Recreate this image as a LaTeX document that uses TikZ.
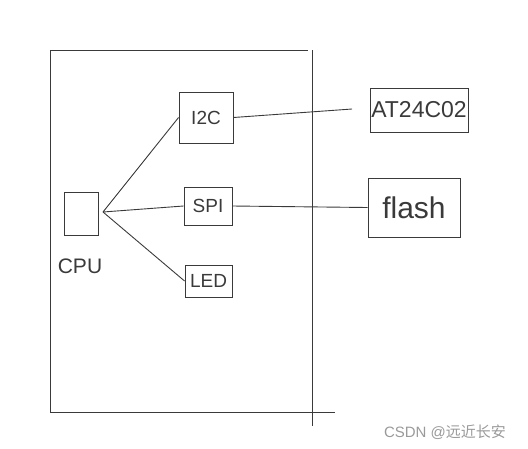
\documentclass[tikz,border=0pt]{standalone}
\usepackage{fontspec}
\setmainfont{Liberation Sans}
\newfontfamily\cjkfont{Noto Sans CJK SC}
\usetikzlibrary{calc}
\definecolor{ink}{HTML}{3A3A3A}
\definecolor{mark}{HTML}{9A9A9A}
\tikzset{
  line/.style={draw=ink, line width=0.9pt},
  box/.style={draw=ink, line width=0.9pt, inner sep=0pt, text=ink},
  lbl/.style={text=ink, font=\fontsize{19}{19}\selectfont},
  biglbl/.style={text=ink, font=\fontsize{23}{23}\selectfont}
}

\begin{document}
\begin{tikzpicture}[x=1pt,y=-1pt]
  \useasboundingbox (0,0) rectangle (528,448);

  % board
  \draw[line] (50,50)--(308,50);
  \draw[line] (50,50)--(50,412);
  \draw[line] (50,412)--(335,412);
  \draw[line] (312,50)--(312,426);

  % blocks on the board
  \node[box, minimum width=34, minimum height=43] (cpu) at (81,213.5) {};
  \node[lbl, font=\fontsize{21}{21}\selectfont] (cpulbl) at (80,266) {CPU};
  \node[box, lbl, minimum width=54, minimum height=51] (i2c) at (206,117.5) {I2C};
  \node[box, lbl, minimum width=48, minimum height=38] (spi) at (208,206) {SPI};
  \node[box, lbl, minimum width=47, minimum height=32] (led) at (208.5,281) {LED};

  % parts outside
  \node[box, biglbl, minimum width=98, minimum height=44] (eeprom) at (419,110) {AT24C02};
  \node[box, text=ink, font=\fontsize{30}{30}\selectfont,
        minimum width=92, minimum height=59] (flash) at (414,207.5) {flash};

  \coordinate (fan) at (103,212);
  \coordinate (eepend) at (352,109);

  \draw[line] (fan)--(i2c.west);
  \draw[line] (fan)--(spi.west);
  \draw[line] (fan)--(led.west);
  \draw[line] (i2c.east)--(eepend);
  \draw[line] (spi.east)--(flash.west);

  \node[text=mark, font=\fontsize{15}{15}\selectfont] (wm) at (445,432)
    {CSDN @{\cjkfont 远近长安}};
\end{tikzpicture}
\end{document}
